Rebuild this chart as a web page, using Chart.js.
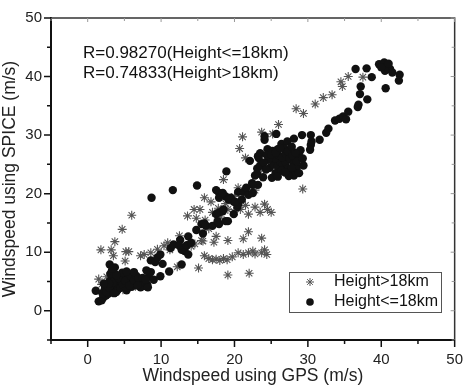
<!DOCTYPE html>
<html>
<head>
<meta charset="utf-8">
<script src="https://cdn.jsdelivr.net/npm/chart.js@4.4.0/dist/chart.umd.min.js"></script>
<style>
  body { margin: 0; background: #fff; }
  #wrap { width: 474px; height: 387px; }
</style>
</head>
<body>
<div id="wrap"><canvas id="windChart" width="474" height="387"></canvas></div>
<script>
// Height<=18km (filled circles)
const lowX = [1.1, 1.5, 1.9, 2.1, 2.5, 2.8, 3.2, 2.4, 2.7, 3.0, 3.2, 3.5, 3.8, 4.0, 4.3, 4.6, 4.9, 5.2, 5.5, 5.8,
  6.1, 6.4, 6.7, 7.0, 7.3, 7.6, 5.0, 5.6, 6.2, 4.4, 3.6, 3.1, 3.0, 3.7, 3.3, 4.1, 5.4, 6.0, 8.1, 8.3, 8.6, 8.0,
  2.0, 2.3, 2.6, 2.9, 3.4, 3.9, 4.2, 4.5, 4.8, 5.1, 5.3, 5.7, 5.9, 6.3, 6.6, 6.9, 7.2, 7.5, 7.8, 8.2,
  4.7, 6.3, 5.3, 3.9, 3.4, 2.9, 2.2, 6.8, 7.9, 3.6,
  9.0, 9.9, 11.1, 12.8, 8.6, 9.2, 9.5, 9.9, 10.2, 11.3, 11.7, 12.6, 13.7, 13.2, 13.7, 12.8, 14.8, 15.5, 15.9,
  16.1, 17.0, 15.7, 17.5, 17.9, 18.4, 18.8, 19.9, 20.4, 20.5, 19.9, 19.5, 18.8, 17.9, 17.5, 17.9, 19.2, 8.7,
  11.6, 14.9, 18.9, 18.4, 20.1, 20.5, 21.2, 21.9, 22.5, 22.4, 23.2, 22.5, 23.1, 22.8, 23.1, 23.5, 22.1, 23.3,
  23.5, 24.5, 24.1, 24.1, 25.7, 26.4, 27.2, 28.1, 29.2, 30.4, 30.5, 30.4, 30.3, 31.6, 32.5, 32.8, 33.7, 34.3,
  34.8, 35.2, 35.5, 36.8, 36.9, 38.1, 37.1, 37.2, 38.7, 36.5, 38.0, 39.7, 40.4, 40.8, 41.2, 41.5, 40.5, 42.5,
  42.4, 40.6, 40.0, 41.0,
  17.9, 18.5, 19.1, 17.7, 12.5, 13.5, 14.1, 21.0, 21.6,
  24.8, 25.3, 25.9, 26.2, 26.6, 27.0, 27.3, 25.5, 26.0, 26.5, 27.0, 27.5, 25.2, 25.9, 28.1, 28.5, 28.8, 28.0,
  28.1, 25.1, 25.6, 26.4, 27.4, 24.6, 29.0, 23.2, 24.0,
  24.4, 25.0, 25.6, 26.8, 27.3, 27.9, 28.3, 28.5, 27.8, 26.9, 25.9, 24.3, 23.9, 26.2, 27.8, 29.3, 29.4, 28.8];
const lowY = [3.4, 1.6, 1.8, 2.2, 2.6, 2.9, 3.3, 4.0, 4.6, 5.1, 4.3, 3.8, 4.4, 5.0, 4.2, 4.8, 5.3, 4.6, 5.5, 4.9,
  5.6, 4.7, 5.3, 4.5, 5.0, 4.2, 6.0, 6.2, 6.1, 5.8, 5.6, 6.3, 7.9, 7.4, 6.8, 3.6, 3.9, 4.1, 4.5, 5.8, 6.6, 6.9,
  3.0, 3.5, 3.2, 3.9, 4.8, 3.2, 5.6, 3.9, 4.4, 5.1, 3.5, 4.3, 5.9, 5.2, 6.0, 5.6, 4.0, 5.6, 4.8, 4.0,
  6.5, 6.6, 6.7, 6.1, 7.2, 4.6, 4.6, 4.3, 5.3, 3.0,
  5.3, 5.9, 6.7, 7.9, 8.6, 8.3, 9.1, 9.6, 8.0, 10.7, 11.3, 12.1, 12.7, 10.2, 9.6, 10.4, 13.8, 14.8, 14.9,
  14.5, 14.5, 13.2, 16.5, 14.8, 17.0, 15.3, 16.5, 17.7, 18.2, 18.6, 19.3, 19.5, 20.1, 20.6, 19.3, 19.0, 19.3,
  20.6, 21.4, 23.8, 20.1, 18.6, 20.3, 20.3, 19.8, 20.1, 21.8, 21.5, 21.5, 23.4, 23.1, 24.3, 24.8, 25.6, 26.1,
  26.9, 27.6, 29.2, 29.8, 30.2, 28.5, 28.9, 29.4, 30.0, 30.0, 28.9, 28.3, 27.5, 29.2, 30.4, 31.1, 32.5, 32.8,
  33.2, 32.7, 34.0, 34.8, 35.2, 36.1, 37.0, 38.3, 39.9, 41.3, 41.4, 42.1, 42.4, 41.8, 41.3, 40.7, 41.0, 40.3,
  39.3, 38.0, 41.6, 42.2,
  16.8, 17.3, 15.3, 15.3, 11.1, 11.2, 11.6, 19.0, 21.0,
  24.4, 25.0, 24.6, 25.5, 24.9, 25.3, 24.3, 26.0, 26.6, 26.2, 26.8, 26.0, 27.3, 27.6, 25.2, 24.5, 26.4, 23.8,
  23.1, 22.7, 23.5, 23.9, 23.0, 25.8, 27.4, 26.4, 25.3,
  26.6, 26.7, 27.0, 27.7, 27.2, 26.5, 27.0, 25.5, 24.4, 23.6, 22.9, 24.1, 22.8, 27.8, 28.0, 26.0, 24.8, 23.5];

// Height>18km (asterisks)
const highX = [1.5, 1.8, 3.2, 3.5, 3.7, 4.7, 6.0, 5.2, 5.6, 5.1, 7.2, 7.7, 8.6, 10.4, 11.2, 12.2, 13.6, 14.8,
  14.5, 15.3, 15.9, 16.8, 18.5, 15.1, 14.1, 14.6, 15.5, 15.7, 17.2, 16.5, 17.5, 17.0, 18.1, 19.1, 19.9, 20.8,
  21.9, 22.8, 23.5, 24.5, 25.0, 24.1, 21.5, 15.9, 16.5, 17.0, 17.5, 18.0, 18.5, 19.0, 19.7, 20.5, 21.2, 21.9,
  22.5, 22.8, 23.7, 24.1, 24.4, 19.1, 22.0, 19.1, 21.2, 23.7, 21.9, 20.5, 22.0, 22.8, 20.7, 21.1, 21.5, 23.7,
  23.7, 25.2, 26.0, 28.4, 29.4, 29.3, 31.0, 32.1, 33.3, 34.5, 34.7, 35.5, 37.5, 4.8, 6.5, 3.0, 16.0, 17.8,
  18.8, 20.0, 12.5, 10.9, 9.5, 2.6, 1.9];
const highY = [5.4, 10.4, 10.4, 9.4, 11.8, 13.9, 16.3, 10.1, 10.1, 8.5, 9.4, 9.6, 9.9, 11.1, 10.4, 7.5, 16.2, 15.8,
  17.3, 17.3, 19.3, 18.6, 22.4, 7.3, 11.0, 11.4, 12.0, 11.9, 11.7, 14.0, 12.7, 16.8, 16.0, 17.3, 17.0, 17.3,
  16.5, 17.7, 16.8, 17.3, 16.8, 18.2, 18.0, 9.4, 8.9, 8.7, 8.8, 8.6, 8.9, 8.7, 9.2, 9.9, 9.6, 9.9,
  10.2, 9.7, 9.9, 10.4, 9.6, 6.1, 6.4, 12.0, 12.3, 12.4, 13.5, 21.0, 20.5, 20.6, 27.7, 29.7, 26.1, 24.4,
  30.5, 30.2, 31.8, 34.5, 33.7, 20.8, 35.3, 36.4, 36.9, 39.1, 38.3, 40.0, 39.9, 3.6, 4.2, 4.9, 15.5, 17.5,
  18.3, 19.5, 12.8, 11.6, 10.5, 5.8, 4.5];

const axisTicks = [0, 10, 20, 30, 40, 50];
const noteLines = ['R=0.98270(Height<=18km)', 'R=0.74833(Height>18km)'];
const legendLabels = ['Height>18km', 'Height<=18km'];

const FONT = '"Liberation Sans", Arial, sans-serif';

function toPoints(xs, ys) {
  return xs.map((x, i) => ({ x: x, y: ys[i] }));
}

// tick marks, box, note text and legend
const framePlugin = {
  id: 'frame',
  afterDraw(chart) {
    const { ctx, chartArea: a, scales } = chart;
    const xs = scales.x, ys = scales.y;
    ctx.save();

    // top & right border
    ctx.strokeStyle = '#333';
    ctx.lineWidth = 1.5;
    ctx.beginPath();
    ctx.moveTo(a.left, a.top);
    ctx.lineTo(a.right, a.top);
    ctx.lineTo(a.right, a.bottom);
    ctx.stroke();

    // ticks every 5
    for (let v = -5; v <= 50; v += 5) {
      const major = v % 10 === 0;
      const px = xs.getPixelForValue(v);
      const py = ys.getPixelForValue(v);
      ctx.strokeStyle = '#111';
      ctx.lineWidth = 1.5;
      ctx.beginPath();
      ctx.moveTo(px, a.bottom);
      ctx.lineTo(px, a.bottom + (major ? 7 : 4));
      ctx.moveTo(a.left, py);
      ctx.lineTo(a.left - (major ? 7 : 4), py);
      ctx.stroke();
      ctx.strokeStyle = '#999';
      ctx.lineWidth = 1;
      ctx.beginPath();
      ctx.moveTo(px, a.top);
      ctx.lineTo(px, a.top + (major ? 4 : 3));
      ctx.moveTo(a.right, py);
      ctx.lineTo(a.right - (major ? 4 : 3), py);
      ctx.stroke();
    }

    // R values
    ctx.fillStyle = '#111';
    ctx.font = '17px ' + FONT;
    ctx.textBaseline = 'middle';
    ctx.textAlign = 'left';
    ctx.fillText(noteLines[0], a.left + 32, a.top + 35);
    ctx.fillText(noteLines[1], a.left + 32, a.top + 55);

    // legend box
    const lx = 289, ly = 272, lw = 152, lh = 40;
    ctx.fillStyle = '#fff';
    ctx.fillRect(lx, ly, lw, lh);
    ctx.strokeStyle = '#555';
    ctx.lineWidth = 1;
    ctx.strokeRect(lx + 0.5, ly + 0.5, lw, lh);

    const sx = lx + 21, r = 4;
    ctx.strokeStyle = '#555';
    ctx.beginPath();
    for (let k = 0; k < 4; k++) {
      const ang = k * Math.PI / 4;
      ctx.moveTo(sx - Math.cos(ang) * r, ly + 10 - Math.sin(ang) * r);
      ctx.lineTo(sx + Math.cos(ang) * r, ly + 10 + Math.sin(ang) * r);
    }
    ctx.stroke();
    ctx.fillStyle = '#111';
    ctx.beginPath();
    ctx.arc(sx, ly + 30, 3.8, 0, Math.PI * 2);
    ctx.fill();

    ctx.font = '16px ' + FONT;
    ctx.fillText(legendLabels[0], lx + 45, ly + 10);
    ctx.fillText(legendLabels[1], lx + 45, ly + 30);
    ctx.restore();
  }
};

new Chart(document.getElementById('windChart'), {
  type: 'scatter',
  data: {
    datasets: [
      {
        label: legendLabels[0],
        data: toPoints(highX, highY),
        pointStyle: 'star',
        pointRadius: 4.5,
        borderColor: '#555',
        borderWidth: 1.1,
        backgroundColor: '#555',
        order: 2
      },
      {
        label: legendLabels[1],
        data: toPoints(lowX, lowY),
        pointStyle: 'circle',
        pointRadius: 4.2,
        borderWidth: 0,
        backgroundColor: '#111',
        order: 1
      }
    ]
  },
  options: {
    responsive: false,
    animation: false,
    layout: { padding: { top: 7, right: 8, left: 0, bottom: 0 } },
    plugins: { legend: { display: false }, tooltip: { enabled: false } },
    scales: {
      x: {
        min: -5, max: 50,
        afterFit: s => { s.height = 47; },
        afterBuildTicks: s => { s.ticks = axisTicks.map(v => ({ value: v })); },
        grid: { display: false, drawTicks: false },
        border: { display: true, color: '#111', width: 2 },
        ticks: { color: '#222', padding: 11, font: { size: 15, family: FONT } },
        title: {
          display: true, text: 'Windspeed using GPS (m/s)', color: '#222',
          padding: { top: 0, bottom: 0 }, font: { size: 17.5, family: FONT }
        }
      },
      y: {
        min: -5, max: 50,
        afterFit: s => { s.width = 51; },
        afterBuildTicks: s => { s.ticks = axisTicks.map(v => ({ value: v })); },
        grid: { display: false, drawTicks: false },
        border: { display: true, color: '#111', width: 2 },
        ticks: { color: '#222', padding: 9, font: { size: 15, family: FONT } },
        title: {
          display: true, text: 'Windspeed using SPICE (m/s)', color: '#222',
          padding: { top: 0, bottom: 0 }, font: { size: 17.5, family: FONT }
        }
      }
    }
  },
  plugins: [framePlugin]
});
</script>
</body>
</html>
